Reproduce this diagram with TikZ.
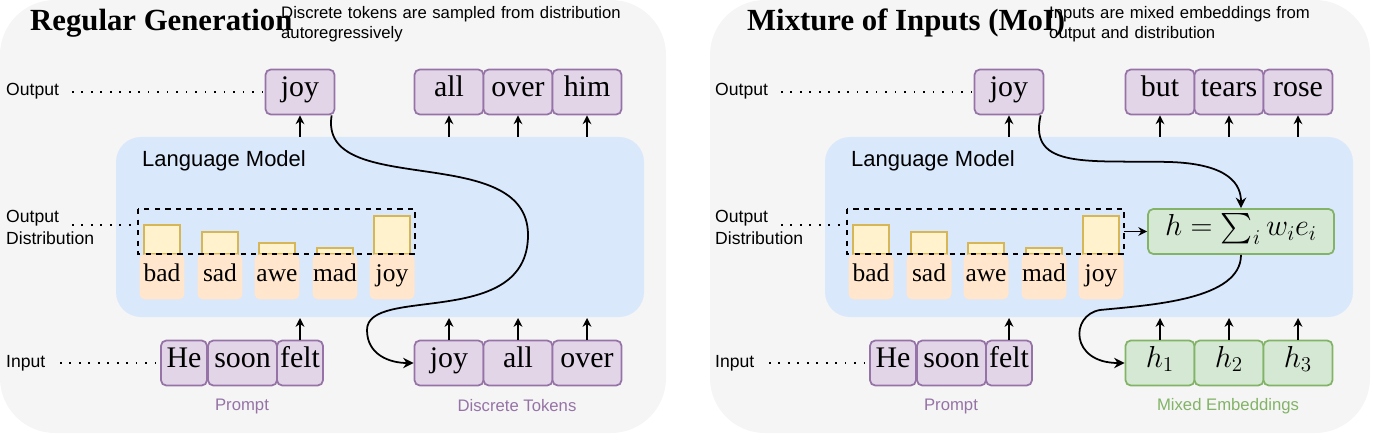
\documentclass[tikz,border=0pt]{standalone}
\usepackage{amsmath}
\usepackage{fontspec}
\setmainfont{Liberation Serif}
\setsansfont{Liberation Sans}
\usetikzlibrary{calc,arrows.meta}

\definecolor{panelbg}{HTML}{F5F5F5}
\definecolor{lmfill}{HTML}{DAE8FC}
\definecolor{tokfill}{HTML}{E1D5E7}
\definecolor{tokdraw}{HTML}{9673A6}
\definecolor{barfill}{HTML}{FFF2CC}
\definecolor{bardraw}{HTML}{D6B656}
\definecolor{lblfill}{HTML}{FFE6CC}
\definecolor{embfill}{HTML}{D5E8D4}
\definecolor{embdraw}{HTML}{82B366}

\tikzset{
  tok/.style={draw=tokdraw, fill=tokfill, line width=1pt, rounded corners=3pt, inner sep=0pt,
    minimum height=0.9cm, text height=1.5ex, text depth=0.45ex, font=\fontsize{17}{19}\selectfont},
  emb/.style={tok, draw=embdraw, fill=embfill},
  bar/.style={draw=bardraw, fill=barfill, line width=1pt},
  lbl/.style={fill=lblfill, rounded corners=3pt, inner sep=0pt, minimum width=0.9cm,
    minimum height=0.9cm, text height=1.5ex, text depth=0.45ex, font=\fontsize{14.5}{16}\selectfont},
  side/.style={font=\sffamily\fontsize{10}{12.5}\selectfont, anchor=west, align=left},
  note/.style={font=\sffamily\fontsize{9.5}{11}\selectfont},
  dots/.style={dash pattern=on 0.9pt off 4.5pt, line width=1pt},
  up/.style={-{Stealth[length=5pt,width=5pt]}, line width=0.9pt},
  flow/.style={-{Stealth[length=6pt,width=6pt]}, line width=1pt},
}

\begin{document}
\begin{tikzpicture}[x=0.02cm, y=-0.02cm]
        \useasboundingbox (0,0) rectangle (1376,439);

        % panels
        \fill[panelbg, rounded corners=1.1cm] (0,0) rectangle (666,433);
        \fill[panelbg, rounded corners=1.1cm] (710,0) rectangle (1370,433);

        % titles
        \node[anchor=west, font=\bfseries\fontsize{17.5}{19}\selectfont] (tl) at (24,23) {Regular Generation};
        \node[side, font=\sffamily\fontsize{9.5}{11.5}\selectfont, text width=9cm] (sl) at (275,24) {Discrete tokens are sampled from distribution\\autoregressively};
        \node[anchor=west, font=\bfseries\fontsize{17.5}{19}\selectfont] (tr) at (741,23) {Mixture of Inputs (MoI)};
        \node[side, font=\sffamily\fontsize{9.5}{11.5}\selectfont, text width=9cm] (sr) at (1043,24) {Inputs are mixed embeddings from\\output and distribution};

        \foreach \s/\p in {0/L,709/R} {
          \begin{scope}[xshift=\s*0.02cm]
            % language model
            \fill[lmfill, rounded corners=0.5cm] (116,137) rectangle (644,317);
            \node[anchor=west, font=\sffamily\fontsize{12.5}{14}\selectfont] (lm\p) at (136,161) {Language Model};

            % side labels
            \node[side] (out\p) at (0,91) {Output};
            \node[side] (dist\p) at (0,227) {Output\\Distribution};
            \node[side] (in\p) at (0,363) {Input};

            % output joy
            \node[tok, minimum width=1.38cm] (oj\p) at (300,92) {joy};
            \draw[dots] (72,92) -- (oj\p.west);

            % output distribution
            \foreach \n/\x/\t/\w in {1/162/225/bad,2/220/232/sad,3/277/243/awe,4/335/248/mad,5/392/216/joy} {
              \draw[bar] (\x-18,\t) rectangle (\x+18,254);
              \node[lbl, anchor=north] (w\p\n) at (\x,254) {\w};
            }
            \draw[dashed, line width=1pt] (138,209) rectangle (415,254);
            \coordinate (dd\p) at (138,225);
            \draw[dots] (72,225) -- (dd\p);

            % prompt
            \node[tok, minimum width=0.92cm] (p1\p) at (184,363) {He};
            \node[tok, minimum width=1.38cm] (p2\p) at (242.5,363) {soon};
            \node[tok, minimum width=0.92cm] (p3\p) at (300,363) {felt};
            \draw[dots] (60,363) -- (p1\p.west);
            \draw[up] (p3\p.north) -- (300,318);
            \draw[up] (300,137) -- (oj\p.south);
            \node[note, text=tokdraw] (pr\p) at (242,406) {Prompt};
          \end{scope}
        }

        % regular: outputs and inputs
        \foreach \n/\x/\a/\b in {1/449/all/joy,2/518/over/all,3/587/him/over} {
          \node[tok, minimum width=1.38cm] (ro\n) at (\x,92) {\a};
          \node[tok, minimum width=1.38cm] (ri\n) at (\x,363) {\b};
          \draw[up] (ri\n.north) -- (\x,318);
          \draw[up] (\x,137) -- (ro\n.south);
        }
        \node[note, text=tokdraw] (dt) at (517,406) {Discrete Tokens};
        \draw[flow] ([xshift=18]ojL.south) .. controls (318,200) and (528,140) .. (528,235)
              .. controls (528,330) and (367,285) .. (367,330) .. controls (367,355) and (390,363) .. (ri1.west);

        % mixture: outputs, mix and embeddings
        \foreach \n/\x/\a/\b in {1/1160/but/h_1,2/1229/tears/h_2,3/1298/rose/h_3} {
          \node[tok, minimum width=1.38cm] (mo\n) at (\x,92) {\a};
          \node[emb, minimum width=1.38cm] (mi\n) at (\x,363) {$\b$};
          \draw[up] (mi\n.north) -- (\x,318);
          \draw[up] (\x,137) -- (mo\n.south);
        }
        \node[emb, minimum width=3.72cm, minimum height=0.9cm, text height=2ex, text depth=0.9ex] (mix) at (1241,231.5) {$h=\sum_i w_i e_i$};
        \draw[up] (1124,231.5) -- (mix.west);
        \node[note, text=embdraw] (me) at (1228,406) {Mixed Embeddings};
        \draw[flow] ([xshift=18]ojR.south) .. controls (1028,170) and (1090,160) .. (1170,162)
              .. controls (1230,164) and (1241,185) .. (mix.north);
        \draw[flow] (mix.south) .. controls (1241,300) and (1150,305) .. (1100,310)
              .. controls (1070,315) and (1070,363) .. (mi1.west);
\end{tikzpicture}
\end{document}
